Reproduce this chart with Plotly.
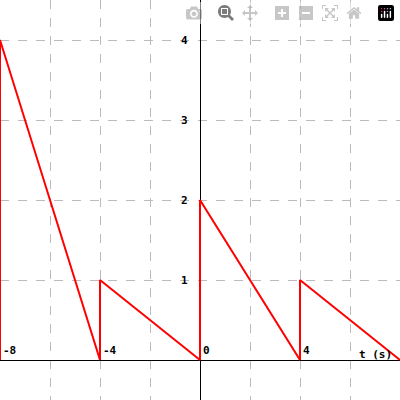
import plotly.graph_objects as go

# signal vertices (t, value)
t_vals = [-8, -8, -4, -4, -4, 0, 0, 0, 4, 4, 4, 8]
y_vals = [0, 4, 0, 0, 1, 0, 0, 2, 0, 0, 1, 0]

x_labels = [-8, -4, 0, 4]
y_labels = [1, 2, 3, 4]

mono = dict(family="DejaVu Sans Mono", size=11, color="black")

fig = go.Figure()
fig.add_trace(go.Scatter(x=t_vals, y=y_vals, mode="lines",
                         line=dict(color="red", width=2), showlegend=False))

for v in x_labels:
    fig.add_annotation(x=v, y=0, text=f"<b>{v}</b>", showarrow=False,
                       xanchor="left", yanchor="bottom", xshift=1, yshift=1, font=mono)
for v in y_labels:
    fig.add_annotation(x=0, y=v, text=f"<b>{v}</b>", showarrow=False,
                       xanchor="right", yanchor="middle", xshift=-10, font=mono)
fig.add_annotation(x=7.0, y=0, text="<b>t (s)</b>", showarrow=False,
                   xanchor="center", yanchor="bottom", yshift=-3, font=mono)

fig.update_layout(width=400, height=400, margin=dict(l=0, r=0, t=0, b=0),
                  plot_bgcolor="white", paper_bgcolor="white")
fig.update_xaxes(range=[-8, 8], dtick=2, showticklabels=False, gridcolor="#bbbbbb",
                 griddash="dash", zeroline=True, zerolinecolor="black", zerolinewidth=1,
                 showline=True, linecolor="#999999", mirror=True)
fig.update_yaxes(range=[-0.5, 4.5], dtick=1, showticklabels=False, gridcolor="#bbbbbb",
                 griddash="dash", zeroline=True, zerolinecolor="black", zerolinewidth=1,
                 showline=True, linecolor="#999999", mirror=True)

fig.write_html("out.html", post_script="document.body.style.margin='0';")
